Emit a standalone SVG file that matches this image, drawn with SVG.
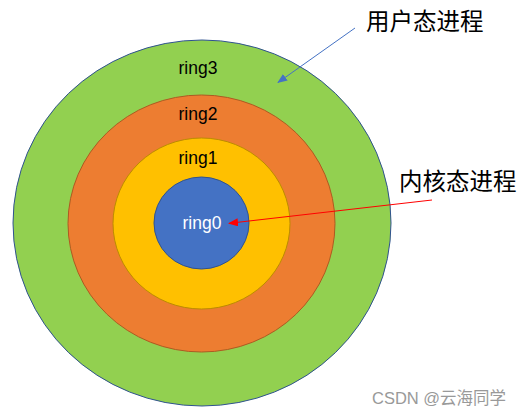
<svg xmlns="http://www.w3.org/2000/svg" width="525" height="416" viewBox="0 0 525 416">
<style>
.lbl{font-family:"Liberation Sans","Noto Sans",sans-serif;font-size:17.5px;text-anchor:middle}
.cn{font-family:"Noto Sans CJK SC",sans-serif;font-size:23.5px;fill:#000}
.wm{font-family:"Liberation Sans","Noto Sans CJK SC",sans-serif;font-size:16.5px;fill:#999}
</style>
<defs>
<marker id="ab" markerWidth="10" markerHeight="8" refX="9" refY="4" orient="auto" markerUnits="userSpaceOnUse"><path d="M0,0 L10,4 L0,8 Z" fill="#4472C4"/></marker>
<marker id="ar" markerWidth="10" markerHeight="8" refX="9" refY="4" orient="auto" markerUnits="userSpaceOnUse"><path d="M0,0 L10,4 L0,8 Z" fill="#FF0000"/></marker>
</defs>
<rect width="525" height="416" fill="#fff"/>
<g id="ring3"><ellipse cx="202" cy="223" rx="189" ry="183" fill="#92D050" stroke="#2F528F" stroke-width="1"/><text class="lbl" x="198" y="74" fill="#000">ring3</text></g>
<g id="ring2"><ellipse cx="201.5" cy="223.5" rx="133.5" ry="128.5" fill="#ED7D31" stroke="#AE5A21" stroke-width="1"/><text class="lbl" x="198" y="120" fill="#000">ring2</text></g>
<g id="ring1"><ellipse cx="201.5" cy="223.5" rx="88.5" ry="85.5" fill="#FFC000" stroke="#BC8C00" stroke-width="1"/><text class="lbl" x="198" y="164" fill="#000">ring1</text></g>
<g id="ring0"><ellipse cx="201.5" cy="223" rx="47.5" ry="46" fill="#4472C4" stroke="#2F528F" stroke-width="1"/><text class="lbl" x="202" y="229" fill="#fff">ring0</text></g>
<g id="user-label"><text class="cn" x="366" y="30">用户态进程</text></g>
<g id="kernel-label"><text class="cn" x="399" y="190">内核态进程</text></g>
<g id="connectors">
<line x1="355" y1="28" x2="278" y2="82.5" stroke="#4472C4" stroke-width="1" marker-end="url(#ab)"/>
<line x1="432" y1="200" x2="229" y2="223.3" stroke="#FF0000" stroke-width="1" marker-end="url(#ar)"/>
</g>
<text class="wm" x="372" y="404">CSDN @云海同学</text>
</svg>
